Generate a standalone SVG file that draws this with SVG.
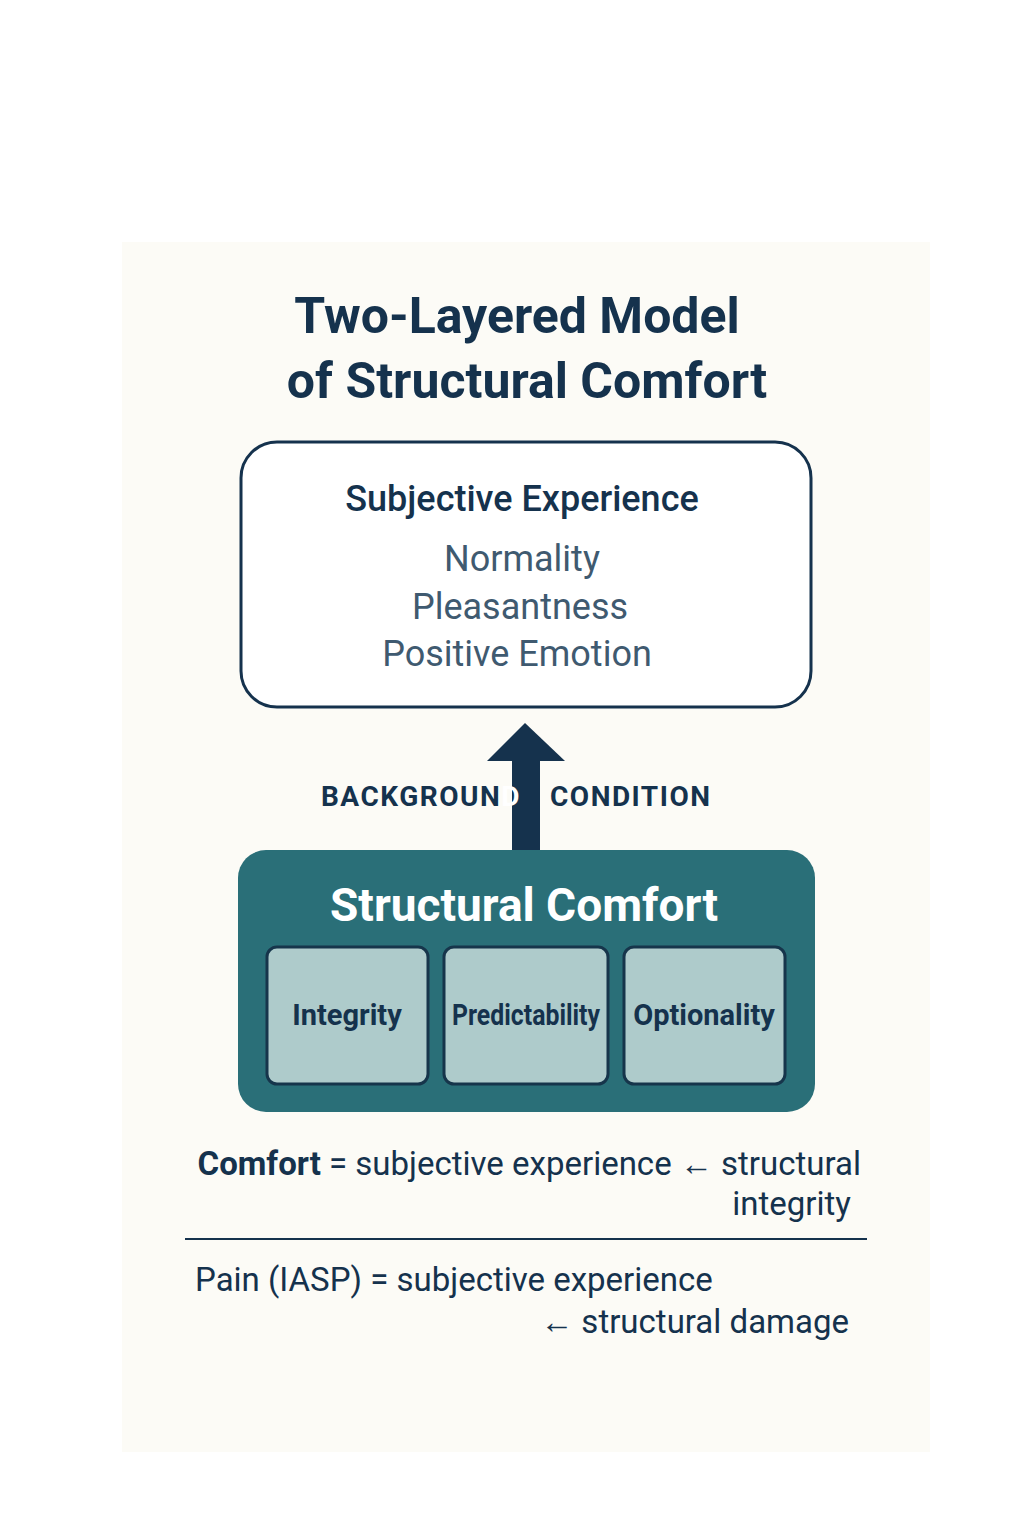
<svg xmlns="http://www.w3.org/2000/svg" width="1024" height="1536" viewBox="0 0 1024 1536">
<style>
.t{font-family:Roboto,"Liberation Sans",sans-serif;fill:#15324d}
.b{font-weight:bold}
.it{font-family:Roboto,"Liberation Sans",sans-serif;font-weight:bold;font-size:29px;fill:#15324d;text-anchor:middle}
.sub{fill:#aecbcb;stroke:#16354b;stroke-width:3}
</style>
<rect width="1024" height="1536" fill="#ffffff"/>
<rect x="122" y="242" width="808" height="1210" fill="#fcfbf6"/>
<text class="t b" x="517" y="333" font-size="50" text-anchor="middle">Two-Layered Model</text>
<text class="t b" x="527" y="398" font-size="50" text-anchor="middle">of Structural Comfort</text>
<g id="subjective">
<rect x="241" y="442" width="570" height="265" rx="36" fill="#ffffff" stroke="#15324d" stroke-width="3"/>
<text class="t" x="522" y="511" font-size="36" font-weight="500" text-anchor="middle">Subjective Experience</text>
<text class="t" x="522" y="571" font-size="36" text-anchor="middle" fill="#3f5a70" style="fill:#3f5a70">Normality</text>
<text class="t" x="520" y="619" font-size="36" text-anchor="middle" style="fill:#3f5a70">Pleasantness</text>
<text class="t" x="517" y="666" font-size="36" text-anchor="middle" style="fill:#3f5a70">Positive Emotion</text>
</g>
<g id="connectors">
<polygon points="487,761 525,723 565,761" fill="#15324d"/>
<rect x="512" y="760" width="28" height="92" fill="#15324d"/>
</g>
<text class="t b" x="321" y="806" font-size="28" letter-spacing="1.5">BACKGROUN<tspan style="fill:#ffffff">D</tspan></text>
<text class="t b" x="550" y="806" font-size="28" letter-spacing="1.5">CONDITION</text>
<g id="structural">
<rect x="238" y="850" width="577" height="262" rx="28" fill="#2a6f78"/>
<text x="524" y="921" font-family="Roboto,'Liberation Sans',sans-serif" font-weight="bold" font-size="46" fill="#ffffff" text-anchor="middle">Structural Comfort</text>
</g>
<g id="integrity"><rect class="sub" x="267" y="947" width="161" height="137" rx="10"/><text class="it" x="347" y="1025">Integrity</text></g>
<g id="predictability"><rect class="sub" x="444" y="947" width="164" height="137" rx="10"/><text class="it" x="526" y="1025" textLength="148" lengthAdjust="spacingAndGlyphs">Predictability</text></g>
<g id="optionality"><rect class="sub" x="624" y="947" width="161" height="137" rx="10"/><text class="it" x="704" y="1025">Optionality</text></g>
<g id="defs-text">
<text class="t" x="861" y="1175" font-size="33" text-anchor="end"><tspan font-weight="bold">Comfort</tspan> = subjective experience ← structural</text>
<text class="t" x="851" y="1215" font-size="33" text-anchor="end">integrity</text>
<line x1="185" y1="1239" x2="867" y2="1239" stroke="#15324d" stroke-width="2"/>
<text class="t" x="195" y="1291" font-size="33">Pain (IASP) = subjective experience</text>
<text class="t" x="849" y="1333" font-size="33" text-anchor="end">← structural damage</text>
</g>
</svg>
